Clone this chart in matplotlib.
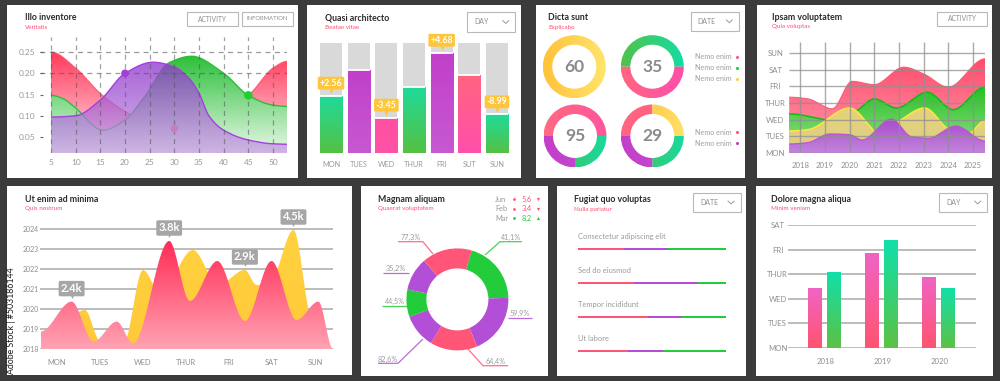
import numpy as np
import matplotlib
matplotlib.use("Agg")
import matplotlib.pyplot as plt
from matplotlib.patches import Rectangle, Polygon
from matplotlib.lines import Line2D
from matplotlib.colors import to_rgba

plt.rcParams['font.family'] = ['Lato', 'DejaVu Sans']

# ======================= DATA =======================
# Panel 1 - Illo inventore
p1_xticks = [5, 10, 15, 20, 25, 30, 35, 40, 45, 50]
p1_yticks = [0.05, 0.10, 0.15, 0.20, 0.25]
p1_red_x = [5, 10, 15, 20, 25, 30, 35, 40, 45, 50, 52.9]
p1_red_y = [0.25, 0.212, 0.152, 0.11, 0.082, 0.07, 0.085, 0.118, 0.148, 0.212, 0.228]
p1_green_x = [5, 7.5, 10, 15.5, 20, 24, 29, 33.5, 40, 45, 50, 52.9]
p1_green_y = [0.148, 0.14, 0.118, 0.066, 0.09, 0.145, 0.225, 0.24, 0.2, 0.148, 0.125, 0.122]
p1_purple_x = [5, 10, 15, 20, 25.7, 30, 33, 35, 37, 40, 45, 50, 52.9]
p1_purple_y = [0.097, 0.1, 0.137, 0.2, 0.226, 0.215, 0.188, 0.153, 0.1, 0.066, 0.043, 0.034, 0.033]
p1_dot_x = [20, 30, 45]
p1_dot_y = [0.2, 0.07, 0.148]

# Panel 2 - Quasi architecto
p2_days = ['MON', 'TUES', 'WED', 'THUR', 'FRI', 'SUT', 'SUN']
p2_values = [52, 75, 32, 60, 91, 71, 35]
p2_total = 100
p2_tag_idx = [0, 2, 4, 6]
p2_tags = ['+2.56', '-3.45', '+4.68', '-8.99']

# Panel 3 - Dicta sunt
p3_numbers = ['60', '35', '95', '29']
p3_donuts = [[100], [50, 50], [50, 25, 25], [25, 25, 25, 25]]
p3_legend_top = ['Nemo enim', 'Nemo enim', 'Nemo enim']
p3_legend_bottom = ['Nemo enim', 'Nemo enim']

# Panel 4 - Ipsam voluptatem
p4_days = ['MON', 'TUES', 'WED', 'THUR', 'FRI', 'SAT', 'SUN']
p4_years = [2018, 2019, 2020, 2021, 2022, 2023, 2024, 2025]
p4_red_x = [2017.55, 2018.3, 2019.3, 2020.1, 2021.0, 2022.2, 2023.0, 2024.0, 2025.49]
p4_red_y = [3.35, 3.25, 2.65, 4.3, 4.1, 5.15, 4.75, 3.95, 5.65]
p4_green_x = [2017.55, 2019.4, 2020.3, 2021.0, 2021.9, 2023.15, 2024.2, 2025.49]
p4_green_y = [2.35, 1.95, 2.55, 3.25, 2.7, 3.65, 2.6, 3.95]
p4_yel_x = [2017.55, 2018.3, 2020.0, 2021.3, 2022.0, 2023.05, 2024.05, 2024.8, 2025.49]
p4_yel_y = [1.32, 1.4, 2.7, 1.1, 1.9, 2.7, 1.4, 1.15, 1.95]
p4_pur_x = [2017.55, 2018.3, 2019.2, 2020.0, 2020.5, 2021.7, 2022.5, 2023.2, 2024.3, 2025.49]
p4_pur_y = [0.54, 0.62, 1.14, 1.1, 0.78, 2.04, 0.98, 0.88, 1.62, 0.72]

# Panel 5 - Ut enim ad minima
p5_days = ['MON', 'TUES', 'WED', 'THUR', 'FRI', 'SAT', 'SUN']
p5_years = [2018, 2019, 2020, 2021, 2022, 2023, 2024]
p5_red_x = [-0.38, 0.34, 0.85, 1.39, 1.77, 2.61, 3.09, 3.73, 4.37, 4.99, 5.57, 6.08, 6.42]
p5_red_y = [2018.87, 2020.37, 2018.37, 2019.37, 2018.28, 2023.4, 2020.4, 2022.4, 2019.4,
            2022.4, 2019.45, 2020.37, 2018.0]
p5_yel_x = [-0.38, 0.0, 0.65, 1.0, 1.55, 2.0, 2.4, 3.16, 3.75, 4.37, 4.64, 5.0, 5.5, 5.9, 6.42]
p5_yel_y = [2018.87, 2019.0, 2019.95, 2018.4, 2018.3, 2021.95, 2020.8, 2022.95, 2021.2,
            2021.95, 2021.2, 2021.5, 2023.95, 2019.6, 2018.0]
p5_tag_x = [0.34, 2.61, 4.37, 5.5]
p5_tag_y = [2020.37, 2023.4, 2021.95, 2023.95]
p5_tags = ['2.4k', '3.8k', '2.9k', '4.5k']

# Panel 6 - Magnam aliquam
p6_values = [72, 69, 54, 39, 31, 38, 57]
p6_labels = ['41,1%', '59,9%', '64,4%', '82,6%', '44,5%', '35,2%', '77,3%']
p6_months = ['Jun', 'Feb', 'Mar']
p6_month_vals = ['5,6', '3,4', '8,2']
p6_month_up = [False, False, True]

# Panel 7 - Fugiat quo voluptas
p7_rows = ['Consectetur adipiscing elit', 'Sed do eiusmod', 'Tempor incididunt', 'Ut labore']
p7_pink = [31, 38, 47.5, 33.5]
p7_purple = [30, 43, 22.5, 24]
p7_green = [39, 19, 30, 42.5]

# Panel 8 - Dolore magna aliqua
p8_years = ['2018', '2019', '2020']
p8_days = ['MON', 'TUES', 'WED', 'THUR', 'FRI', 'SAT']
p8_pink = [2.44, 3.87, 2.89]
p8_green = [3.1, 4.39, 2.44]

# ======================= STYLE =======================
W, H = 1000, 381
BG = '#3b3b3b'
TITLE_C = '#2a2a2a'
SUB_C = '#ff4d74'
TXT = '#8e8e8e'
PINK = '#ff5577'
GREEN = '#22cc3a'
PURPLE = '#b24fd6'
YELLOW = '#ffcd3c'

fig = plt.figure(figsize=(W / 100, H / 100), dpi=100, facecolor=BG)


def frect(x0, y0, x1, y1):
    return [x0 / W, 1 - y1 / H, (x1 - x0) / W, (y1 - y0) / H]


def panel(x0, y0, x1, y1):
    fig.add_artist(Rectangle((x0 / W, 1 - y1 / H), (x1 - x0) / W, (y1 - y0) / H,
                             transform=fig.transFigure, fc='white', ec='none', zorder=-10))


def ftext(x, y, s, **kw):
    kw.setdefault('va', 'center')
    return fig.text(x / W, 1 - y / H, s, **kw)


def header(x, y, title, sub):
    ftext(x, y, title, fontsize=6.3, fontweight='bold', color=TITLE_C, zorder=20)
    ftext(x, y + 9.5, sub, fontsize=4.5, color=SUB_C, zorder=20)


def button(x0, y0, x1, y1, label, fs=4.9):
    fig.add_artist(Rectangle((x0 / W, 1 - y1 / H), (x1 - x0) / W, (y1 - y0) / H,
                             transform=fig.transFigure, fc='white', ec='#b8b8b8', lw=0.8, zorder=5))
    ftext((x0 + x1) / 2, (y0 + y1) / 2, label, ha='center', fontsize=fs, color=TXT, zorder=6)


def dropdown(x0, y0, x1, y1, label, tx, chx):
    fig.add_artist(Rectangle((x0 / W, 1 - y1 / H), (x1 - x0) / W, (y1 - y0) / H,
                             transform=fig.transFigure, fc='white', ec='#b8b8b8', lw=0.8, zorder=5))
    cy = (y0 + y1) / 2
    ftext(tx, cy, label, ha='left', fontsize=5.0, color=TXT, zorder=6)
    fig.add_artist(Line2D([(chx - 3) / W, chx / W, (chx + 3) / W],
                          [1 - (cy - 1.4) / H, 1 - (cy + 1.4) / H, 1 - (cy - 1.4) / H],
                          transform=fig.transFigure, color='#9a9a9a', lw=0.7, zorder=6))


def new_ax(x0, y0, x1, y1, z=1):
    ax = fig.add_axes(frect(x0, y0, x1, y1), zorder=z)
    ax.set_facecolor('none')
    for s in ax.spines.values():
        s.set_visible(False)
    ax.tick_params(length=0)
    return ax


def pchip(x, y, xs):
    x = np.asarray(x, float)
    y = np.asarray(y, float)
    h = np.diff(x)
    d = np.diff(y) / h
    n = len(x)
    m = np.zeros(n)
    for k in range(1, n - 1):
        if d[k - 1] * d[k] > 0:
            w1 = 2 * h[k] + h[k - 1]
            w2 = h[k] + 2 * h[k - 1]
            m[k] = (w1 + w2) / (w1 / d[k - 1] + w2 / d[k])
    m[0] = 0.0
    m[-1] = 0.0
    idx = np.clip(np.searchsorted(x, xs) - 1, 0, n - 2)
    t = (xs - x[idx]) / h[idx]
    h00 = 2 * t ** 3 - 3 * t ** 2 + 1
    h10 = t ** 3 - 2 * t ** 2 + t
    h01 = -2 * t ** 3 + 3 * t ** 2
    h11 = t ** 3 - t ** 2
    return h00 * y[idx] + h10 * h[idx] * m[idx] + h01 * y[idx + 1] + h11 * h[idx] * m[idx + 1]


def grad_image(ax, x0, x1, y0, y1, c0, c1, clip, z, alpha=1.0, horizontal=False):
    a = np.array(to_rgba(c0))
    b = np.array(to_rgba(c1))
    t = np.linspace(0, 1, 256)[:, None]
    arr = a + (b - a) * t
    arr[:, 3] *= alpha
    img = arr[None, :, :] if horizontal else arr[:, None, :]
    im = ax.imshow(img, extent=[x0, x1, y0, y1], origin='lower', aspect='auto',
                   interpolation='bilinear', zorder=z)
    im.set_clip_path(clip)
    return im


def grad_area(ax, x, y, base, c_top, c_bot, z, alpha=1.0, line=None, lw=1.0, line_alpha=1.0):
    xs = np.linspace(min(x), max(x), 500)
    ys = pchip(x, y, xs)
    verts = np.column_stack([np.r_[xs, xs[::-1]], np.r_[ys, np.full_like(ys, base)]])
    poly = Polygon(verts, closed=True, fc='none', ec='none', transform=ax.transData)
    ax.add_patch(poly)
    grad_image(ax, xs[0], xs[-1], base, ys.max(), c_bot, c_top, poly, z, alpha)
    if line:
        ax.plot(xs, ys, color=line, lw=lw, zorder=z + 0.1, alpha=line_alpha, solid_capstyle='butt')
    return xs, ys


# ======================= PANELS =======================
panel(7, 5, 298, 178)
panel(307, 5, 521, 178)
panel(536, 5, 745, 178)
panel(757, 5, 992, 178)
panel(7, 186, 352, 375)
panel(361, 186, 548, 376)
panel(557, 186, 746, 376)
panel(756, 186, 993, 376)

# ---------- Panel 1 ----------
header(25, 17.7, 'Illo inventore', 'Veritatis')
button(187, 12, 238, 26, 'ACTIVITY', 4.8)
button(242, 12, 293, 26, 'INFORMATION', 4.2)
ax1 = new_ax(40, 37, 287.3, 153)
x1l = (2.77, 52.9)
y1l = (0.0124, 0.2853)
grad_area(ax1, p1_red_x, p1_red_y, y1l[0], '#ff3a5c', '#ffe4ea', 1, line='#ff5a78', lw=0.9)
grad_area(ax1, p1_green_x, p1_green_y, y1l[0], '#2cc03a', '#eaf8ea', 2, line='#2ebd3b', lw=1.0)
grad_area(ax1, p1_purple_x, p1_purple_y, y1l[0], '#8e32cc', '#c6a0e2', 3, alpha=0.76,
          line='#a63ee0', lw=1.0)
ax1.vlines(p1_xticks, y1l[0], y1l[1], colors='#555555', linestyles=(0, (4, 3.5)), lw=0.9,
           alpha=0.55, zorder=10)
ax1.hlines([0.20, 0.25], x1l[0], x1l[1], colors='#555555', linestyles=(0, (4, 3.5)), lw=0.9,
           alpha=0.6, zorder=10)
ax1.scatter(p1_dot_x, p1_dot_y, s=[30, 30, 38], c=['#a23fd6', '#c77cc6', '#22cc33'],
            zorder=12, linewidths=0)
ax1.set_xlim(*x1l)
ax1.set_ylim(*y1l)
ax1.set_xticks(p1_xticks)
ax1.set_yticks(p1_yticks, [f'{v:.2f}' for v in p1_yticks])
ax1.tick_params(axis='x', labelsize=6, labelcolor='#9a9a9a', pad=4.5)
ax1.tick_params(axis='y', labelsize=6, labelcolor='#9a9a9a', pad=3.5, length=2.5,
                direction='in', color='#666666', width=0.8)

# ---------- Panel 2 ----------
header(325, 17.7, 'Quasi architecto', 'Beatae vitae')
dropdown(467, 12, 515, 32, 'DAY', 474, 505.7)
ax2 = new_ax(317.2, 43, 510.8, 153)
idx2 = np.arange(len(p2_days))
ax2.bar(idx2, [p2_total] * len(idx2), width=0.8, color='#d9d9d9', zorder=1)
bars2 = ax2.bar(idx2, p2_values, width=0.8, fc='none', ec='none', zorder=2)
p2_cols = [('#1edb9b', '#55c143'), ('#c13fca', '#c759d1'), ('#ff4fa3', '#ff52a6'),
           ('#1edb9b', '#55c143'), ('#c13fca', '#c759d1'), ('#ff6580', '#ff4fab'),
           ('#1edb9b', '#55c143')]
for r, (ct, cb) in zip(bars2, p2_cols):
    grad_image(ax2, r.get_x(), r.get_x() + r.get_width(), 0, r.get_height(), cb, ct, r, 2)
    ax2.plot([r.get_x(), r.get_x() + r.get_width()], [r.get_height()] * 2, color='white',
             lw=1.3, zorder=3, solid_capstyle='butt')
for i, t in zip(p2_tag_idx, p2_tags):
    v = p2_values[i]
    ax2.plot(i, v + 4.2, marker='v', ms=3.2, color='#ffc53d', mec='none', zorder=5, clip_on=False)
    ax2.text(i, v + 11.5, t, ha='center', va='center', fontsize=6.3, fontweight='bold',
             color='white', zorder=6, clip_on=False,
             bbox=dict(boxstyle='round,pad=0.22,rounding_size=0.15', fc='#ffc53d', ec='none'))
ax2.set_xlim(-0.5, 6.5)
ax2.set_ylim(0, p2_total)
ax2.set_xticks(idx2, p2_days)
ax2.set_yticks([])
ax2.tick_params(axis='x', labelsize=5.3, labelcolor='#9a9a9a', pad=6)

# ---------- Panel 3 ----------
header(548.3, 17.7, 'Dicta sunt', 'Explicabo')
dropdown(691, 11.7, 739, 31, 'DATE', 697.7, 729.3)
ax3 = new_ax(536, 5, 745, 178)
p3_centers = [(574.3, -66.7), (652.3, -66.7), (575, -136), (652.3, -136)]
p3_grads = [
    [('#ffc23a', '#ffe56c')],
    [('#52c24a', '#15dca2'), ('#ff6681', '#ff4fab')],
    [('#ff6a80', '#ff559f'), ('#4cc04c', '#18d9a0'), ('#c43fc9', '#c04dd0')],
    [('#ff6580', '#ff5f86'), ('#ffbe38', '#ffe067'), ('#4cc04c', '#18d9a0'), ('#c43fc9', '#c04dd0')],
]
R3, W3 = 31.5, 9.5
for vals, (cx, cy), grads, num in zip(p3_donuts, p3_centers, p3_grads, p3_numbers):
    wedges, _ = ax3.pie(vals, startangle=180, counterclock=False, radius=R3, center=(cx, cy),
                        wedgeprops=dict(width=W3, fc='none', ec='none'))
    for w, (c0, c1) in zip(wedges, grads):
        grad_image(ax3, cx - R3, cx + R3, cy - R3, cy + R3, c0, c1, w, 2, horizontal=True)
    ax3.text(cx, cy, num, ha='center', va='center', fontsize=12.5, fontweight='bold',
             color='#8a8a8a', zorder=4)
ax3.set_aspect('auto')
ax3.set_xlim(536, 745)
ax3.set_ylim(-178, -5)
ax3.axis('off')
for lab, yy, c in zip(p3_legend_top, [56.7, 67.7, 78.7], [PINK, GREEN, YELLOW]):
    ax3.text(731.7, -yy, lab, ha='right', va='center', fontsize=5.2, color='#a0a0a0')
    ax3.scatter([736.7], [-yy], s=5, c=c, linewidths=0, zorder=4)
for lab, yy, c in zip(p3_legend_bottom, [132.3, 143.3], [PINK, '#c040c8']):
    ax3.text(731.7, -yy, lab, ha='right', va='center', fontsize=5.2, color='#a0a0a0')
    ax3.scatter([736.7], [-yy], s=5, c=c, linewidths=0, zorder=4)

# ---------- Panel 4 ----------
header(771.7, 17.3, 'Ipsam voluptatem', 'Quia voluptas')
button(936.7, 11.7, 987.3, 26, 'ACTIVITY', 4.8)
ax4 = new_ax(789.3, 42, 985, 153)
x4l = (2017.555, 2025.49)
y4l = (0, 6.66)
grad_area(ax4, p4_red_x, p4_red_y, 0, '#ff4a6a', '#ffa0b0', 1, line='#ff5a78', lw=0.8)
grad_area(ax4, p4_green_x, p4_green_y, 0, '#22c222', '#9ede90', 2, line='#16b816', lw=1.1)
grad_area(ax4, p4_yel_x, p4_yel_y, 0, '#e6d37a', '#dccd86', 3, line='#ffe83a', lw=1.1)
grad_area(ax4, p4_pur_x, p4_pur_y, 0, '#a94ccc', '#c284dc', 4, line='#c050d8', lw=0.9)
ax4.hlines(range(7), x4l[0], x4l[1], colors='#8f8f8f', lw=1.0, alpha=0.75, zorder=8)
ax4.vlines(p4_years, 0, y4l[1], colors='#8f8f8f', lw=1.0, alpha=0.75, zorder=8)
ax4.set_xlim(*x4l)
ax4.set_ylim(*y4l)
ax4.set_xticks(p4_years, [str(y) for y in p4_years])
ax4.set_yticks(range(7), p4_days)
for lb in ax4.get_yticklabels():
    lb.set_ha('center')
ax4.tick_params(axis='x', labelsize=5.6, labelcolor='#8e8e8e', pad=6.5)
ax4.tick_params(axis='y', labelsize=5.6, labelcolor='#8e8e8e', pad=10)

# ---------- Panel 5 ----------
header(25, 199, 'Ut enim ad minima', 'Quis nostrum')
ax5 = new_ax(40, 222, 333.3, 349)
x5l = (-0.395, 6.426)
ax5.hlines(p5_years, x5l[0], x5l[1], colors='#b0b0b0', lw=1.2, zorder=0.5)
grad_area(ax5, p5_yel_x, p5_yel_y, 2018, '#ffd23e', '#ffc93a', 1)
grad_area(ax5, p5_red_x, p5_red_y, 2018, '#ff2d56', '#ffa3b3', 2)
for x, y, t in zip(p5_tag_x, p5_tag_y, p5_tags):
    ax5.plot(x, y + 0.3, marker='v', ms=3.5, color='#a6a6a6', mec='none', zorder=6, clip_on=False)
    ax5.text(x, y + 0.65, t, ha='center', va='center', fontsize=8, fontweight='bold',
             color='white', zorder=7, clip_on=False,
             bbox=dict(boxstyle='round,pad=0.2,rounding_size=0.15', fc='#a6a6a6', ec='none'))
ax5.set_xlim(*x5l)
ax5.set_ylim(2018, 2024.35)
ax5.set_xticks(range(7), p5_days)
ax5.set_yticks(p5_years, [str(y) for y in p5_years])
ax5.tick_params(axis='x', labelsize=5.4, labelcolor='#8e8e8e', pad=7)
ax5.tick_params(axis='y', labelsize=5.0, labelcolor='#8e8e8e', pad=1)
ftext(11.5, 321, 'Adobe Stock | #503186144', rotation=90, ha='center', fontsize=6.3,
      color='#1a1a1a', zorder=30)

# ---------- Panel 6 ----------
header(377.7, 199.3, 'Magnam aliquam', 'Quaerat voluptatem')
ax6 = new_ax(361, 186, 548, 376)
c6 = (457.4, -299.4)
p6_cols = [GREEN, PURPLE, PINK, PURPLE, GREEN, PURPLE, PINK]
ax6.pie(p6_values, colors=p6_cols, startangle=73.8, counterclock=False, radius=51, center=c6,
        wedgeprops=dict(width=20, ec='none'))
ax6.set_aspect('auto')
ax6.set_xlim(361, 548)
ax6.set_ylim(-376, -186)
ax6.axis('off')
p6_lines = [
    [(485, 255), (500, 241.7), (522, 241.7)],
    [(508, 318), (532, 318)],
    [(468, 349), (483, 365.7), (508, 365.7)],
    [(423, 339), (398, 363.3), (378, 363.3)],
    [(407, 306), (382, 306)],
    [(409, 273), (383, 273)],
    [(433, 254), (423, 241.7), (398, 241.7)],
]
for pts, lab, col in zip(p6_lines, p6_labels, p6_cols):
    xs = [p[0] for p in pts]
    ys = [-p[1] for p in pts]
    ax6.plot(xs, ys, color=col, lw=0.9, alpha=0.85, zorder=3, solid_capstyle='butt')
    ux = (pts[-1][0] + pts[-2][0]) / 2
    ax6.text(ux, -pts[-1][1] + 4.2, lab, ha='center', va='center', fontsize=5.2, color='#9a9a9a')
for k, (m, v, up) in enumerate(zip(p6_months, p6_month_vals, p6_month_up)):
    yy = -(199.3 + 9.5 * k)
    col = GREEN if up else PINK
    ax6.text(495, yy, m, ha='left', va='center', fontsize=5.3, color='#9a9a9a')
    ax6.scatter([514.3], [yy], s=4, c=col, linewidths=0)
    ax6.text(521.5, yy, v, ha='left', va='center', fontsize=5.3, color=col)
    ax6.plot(537.7, yy, marker='^' if up else 'v', ms=2.3, color=col, mec='none')

# ---------- Panel 7 ----------
header(574, 200, 'Fugiat quo voluptas', 'Nulla pariatur')
dropdown(692.7, 192.7, 740.7, 212.3, 'DATE', 700, 731)
ax7 = new_ax(578, 232, 726, 368)
iy = np.arange(len(p7_rows))
left = np.zeros(len(iy))
for vals, col in [(p7_pink, PINK), (p7_purple, PURPLE), (p7_green, GREEN)]:
    ax7.barh(iy, vals, left=left, height=0.085, color=col, zorder=2)
    left = left + np.array(vals)
for i, lab in enumerate(p7_rows):
    ax7.text(0, i - 0.37, lab, ha='left', va='center', fontsize=5.4, color='#9a9a9a')
ax7.set_xlim(0, 100)
ax7.set_ylim(3.5, -0.5)
ax7.set_xticks([])
ax7.set_yticks([])

# ---------- Panel 8 ----------
header(770.7, 199.3, 'Dolore magna aliqua', 'Minim veniam')
dropdown(939.3, 192.7, 987.3, 212.3, 'DAY', 946.7, 977.7)
ax8 = new_ax(788, 225, 976, 348)
x8 = np.arange(len(p8_years))
ax8.hlines(range(len(p8_days)), -0.667, 2.63, colors='#a9a9a9', lw=1.1, zorder=0.5)
bp = ax8.bar(x8 - 0.19, p8_pink, width=0.245, fc='none', ec='none', zorder=2)
bg = ax8.bar(x8 + 0.145, p8_green, width=0.245, fc='none', ec='none', zorder=2)
for r in bp:
    grad_image(ax8, r.get_x(), r.get_x() + r.get_width(), 0, r.get_height(), '#ff5470', '#f064c6', r, 2)
for r in bg:
    grad_image(ax8, r.get_x(), r.get_x() + r.get_width(), 0, r.get_height(), '#5dc144', '#10e0aa', r, 2)
ax8.set_xlim(-0.667, 2.63)
ax8.set_ylim(0, 5)
ax8.set_xticks(x8, p8_years)
ax8.set_yticks(range(len(p8_days)), p8_days)
for lb in ax8.get_yticklabels():
    lb.set_ha('center')
ax8.tick_params(axis='x', labelsize=5.6, labelcolor='#8e8e8e', pad=7)
ax8.tick_params(axis='y', labelsize=5.6, labelcolor='#8e8e8e', pad=7.5)

fig.savefig('out.png', dpi=100, facecolor=BG)
